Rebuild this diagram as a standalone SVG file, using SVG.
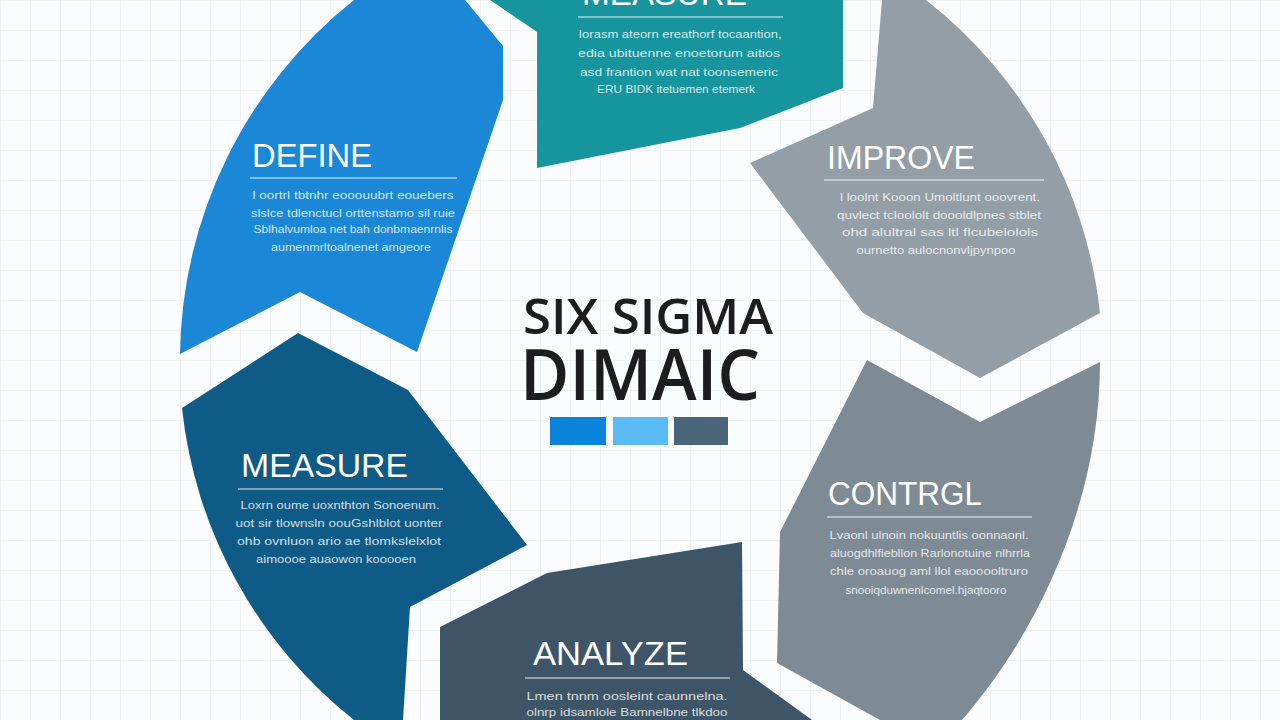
<svg xmlns="http://www.w3.org/2000/svg" width="1280" height="720" viewBox="0 0 1280 720">
  <defs>
    <pattern id="grid" width="30" height="30" patternUnits="userSpaceOnUse">
      <path d="M30 0 L0 0 0 30" fill="none" stroke="#e6eaee" stroke-width="1"/>
    </pattern>
    <style>
      .title{font-family:"Liberation Sans",Arial,sans-serif;font-size:33px;fill:#ffffff}
      .body{font-family:"Liberation Sans",Arial,sans-serif;font-size:11.5px;fill:#ffffff;fill-opacity:0.82;text-anchor:middle}
      .rule{stroke:#ffffff;stroke-opacity:0.6;stroke-width:1.5}
      .head{font-family:"Open Sans","Noto Sans",sans-serif;fill:#1d1d1f}
    </style>
  </defs>
  <rect width="1280" height="720" fill="#fbfcfd"/>
  <rect width="1280" height="720" fill="url(#grid)"/>

  <g id="measure-top">
    <path d="M490 0 L843 0 L843 88 L740 128 L537 168 L537 32 Z" fill="#17959e"/>
    <text class="title" x="582" y="5" textLength="165" lengthAdjust="spacingAndGlyphs">MEASURE</text>
    <line class="rule" x1="578" y1="17" x2="783" y2="17"/>
    <text class="body" x="680" y="38" textLength="203" lengthAdjust="spacingAndGlyphs">Iorasm ateorn ereathorf tocaantion,</text>
    <text class="body" x="679" y="57" textLength="202" lengthAdjust="spacingAndGlyphs">edia ubituenne enoetorum aitios</text>
    <text class="body" x="679" y="76" textLength="198" lengthAdjust="spacingAndGlyphs">asd frantion wat nat toonsemeric</text>
    <text class="body" x="676" y="93" textLength="158" lengthAdjust="spacingAndGlyphs">ERU BIDK itetuemen etemerk</text>
  </g>

  <g id="define">
    <path d="M354 0 L465 0 L503 46 L503 100 L417 352 L300 292 L180 354 A460 460 0 0 1 354 0 Z" fill="#1a88d7"/>
    <text class="title" x="252" y="167" textLength="120" lengthAdjust="spacingAndGlyphs">DEFINE</text>
    <line class="rule" x1="250" y1="178" x2="457" y2="178"/>
    <text class="body" x="353" y="199" textLength="201" lengthAdjust="spacingAndGlyphs">l oortrl tbtnhr eooouubrt eouebers</text>
    <text class="body" x="353" y="217" textLength="204" lengthAdjust="spacingAndGlyphs">slslce tdlenctucl orttenstamo sil ruie</text>
    <text class="body" x="353" y="233" textLength="199" lengthAdjust="spacingAndGlyphs">Sblhalvumloa net bah donbmaenrnlis</text>
    <text class="body" x="351" y="251" textLength="160" lengthAdjust="spacingAndGlyphs">aumenmrltoalnenet amgeore</text>
  </g>

  <g id="improve">
    <path d="M882 0 L926 0 A460 460 0 0 1 1100 313 L980 378 L863 313 L750 163 L873 108 Z" fill="#939ea7"/>
    <text class="title" x="827" y="169" textLength="148" lengthAdjust="spacingAndGlyphs">IMPROVE</text>
    <line class="rule" x1="824" y1="180" x2="1044" y2="180"/>
    <text class="body" x="940" y="201" textLength="200" lengthAdjust="spacingAndGlyphs">l loolnt Kooon Umoltlunt ooovrent.</text>
    <text class="body" x="939" y="219" textLength="204" lengthAdjust="spacingAndGlyphs">quvlect tcloololt doooldlpnes stblet</text>
    <text class="body" x="940" y="236" textLength="196" lengthAdjust="spacingAndGlyphs">ohd alultral sas ltl flcubelolols</text>
    <text class="body" x="936" y="254" textLength="159" lengthAdjust="spacingAndGlyphs">ournetto aulocnonvljpynpoo</text>
  </g>

  <g id="measure">
    <path d="M298 333 L408 390 L527 545 L410 607 L403 720 L354 720 A460 460 0 0 1 182 408 Z" fill="#0f5b87"/>
    <text class="title" x="241" y="477" textLength="167" lengthAdjust="spacingAndGlyphs">MEASURE</text>
    <line class="rule" x1="238" y1="489" x2="443" y2="489"/>
    <text class="body" x="340" y="509" textLength="199" lengthAdjust="spacingAndGlyphs">Loxrn oume uoxnthton Sonoenum.</text>
    <text class="body" x="339" y="527" textLength="207" lengthAdjust="spacingAndGlyphs">uot sir tlownsln oouGshlblot uonter</text>
    <text class="body" x="339" y="545" textLength="204" lengthAdjust="spacingAndGlyphs">ohb ovnluon ario ae tlomkslelxlot</text>
    <text class="body" x="336" y="563" textLength="160" lengthAdjust="spacingAndGlyphs">aimoooe auaowon kooooen</text>
  </g>

  <g id="control">
    <path d="M867 360 L980 422 L1100 362 C1100 500 1040 630 962 720 L880 720 L777 663 L780 532 Z" fill="#7e8b95"/>
    <text class="title" x="828" y="505" textLength="154" lengthAdjust="spacingAndGlyphs">CONTRGL</text>
    <line class="rule" x1="827" y1="517" x2="1032" y2="517"/>
    <text class="body" x="929" y="539" textLength="199" lengthAdjust="spacingAndGlyphs">Lvaonl ulnoin nokuuntlis oonnaonl.</text>
    <text class="body" x="930" y="557" textLength="200" lengthAdjust="spacingAndGlyphs">aluogdhlfiebllon Rarlonotuine nlhrrla</text>
    <text class="body" x="929" y="575" textLength="198" lengthAdjust="spacingAndGlyphs">chle oroauog aml llol eaooooltruro</text>
    <text class="body" x="926" y="594" textLength="161" lengthAdjust="spacingAndGlyphs">snooiqduwnenlcomel.hjaqtooro</text>
  </g>

  <g id="analyze">
    <path d="M440 627 L547 573 L742 542 L743 670 L812 720 L440 720 Z" fill="#3d5567"/>
    <text class="title" x="533" y="665" textLength="155" lengthAdjust="spacingAndGlyphs">ANALYZE</text>
    <line class="rule" x1="525" y1="678" x2="730" y2="678"/>
    <text class="body" x="627" y="700" textLength="201" lengthAdjust="spacingAndGlyphs">Lmen tnnm oosleint caunnelna.</text>
    <text class="body" x="627" y="716" textLength="201" lengthAdjust="spacingAndGlyphs">olnrp idsamlole Bamnelbne tlkdoo</text>
  </g>

  <g id="center-title">
    <text class="head" x="523" y="334" font-size="49" font-weight="600" textLength="250" lengthAdjust="spacingAndGlyphs">SIX SIGMA</text>
    <text class="head" x="520" y="400" font-size="70" font-weight="600" textLength="240" lengthAdjust="spacingAndGlyphs">DIMAIC</text>
    <rect x="550" y="417" width="56" height="28" fill="#0a84d8"/>
    <rect x="613" y="417" width="55" height="28" fill="#5bbcf5"/>
    <rect x="674" y="417" width="54" height="28" fill="#4a6478"/>
  </g>

  <g id="connectors"></g>
</svg>
